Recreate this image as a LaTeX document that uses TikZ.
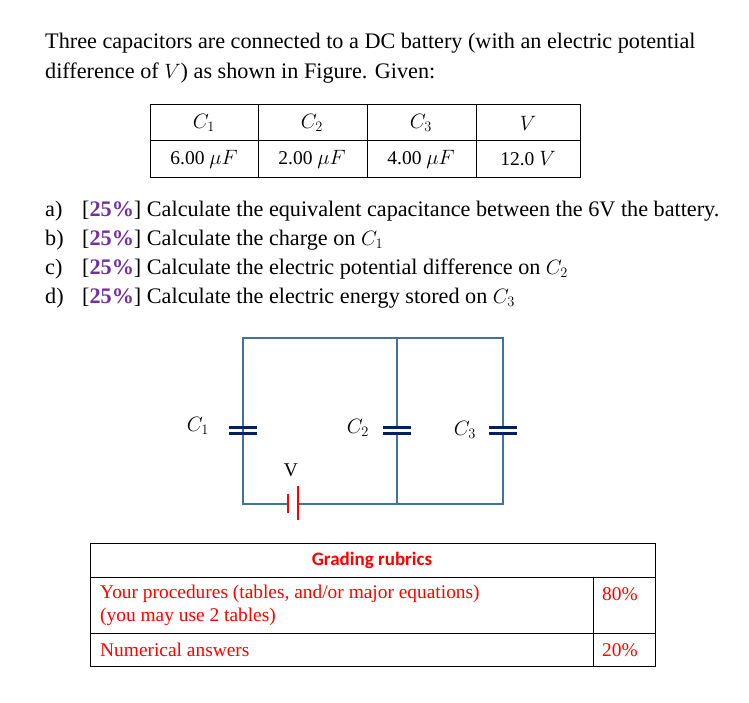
\documentclass[tikz,border=0pt]{standalone}
\usepackage{fontspec}
\setmainfont{Liberation Serif}
\newfontfamily\rubfont{Carlito}
\begin{document}
\begin{tikzpicture}[x=1pt,y=-1pt,
  txt/.style={anchor=west,inner sep=0pt,font=\fontsize{22.2}{26}\selectfont},
  cell/.style={inner sep=0pt,font=\fontsize{19.5}{22}\selectfont},
  wire/.style={draw=wireblue,line width=2.2pt},
  plate/.style={draw=navy,line width=3pt},
  bat/.style={draw=red,line width=2.5pt},
  rub/.style={inner sep=0pt,anchor=west,text=red,font=\fontsize{19.4}{22}\selectfont}]
\definecolor{wireblue}{RGB}{65,113,156}
\definecolor{navy}{RGB}{0,32,96}
\definecolor{purplec}{RGB}{112,48,160}
\useasboundingbox (0,0) rectangle (749,702);
\node[txt] (l1) at (45,43) {Three capacitors are connected to a DC battery (with an electric potential};
\node[txt] (l2) at (45,73) {difference of $V$) as shown in Figure. Given:};
% given table
\draw[line width=0.8pt] (150,104) rectangle (580,177) (150,140) -- (580,140)
  (258,104) -- (258,177) (367,104) -- (367,177) (476,104) -- (476,177);
\node[cell] (h1) at (204,123) {$C_1$};
\node[cell] (h2) at (312,123) {$C_2$};
\node[cell] (h3) at (421,123) {$C_3$};
\node[cell] (h4) at (528,123) {$V$};
\node[cell] (v1) at (204,159) {6.00 $\mu F$};
\node[cell] (v2) at (312,159) {2.00 $\mu F$};
\node[cell] (v3) at (421,159) {4.00 $\mu F$};
\node[cell] (v4) at (528,159) {12.0 $V$};
% items
\node[txt] (ia) at (45,211) {a)};
\node[txt] (ib) at (45,240) {b)};
\node[txt] (ic) at (45,269) {c)};
\node[txt] (id) at (45,298) {d)};
\node[txt] (ta) at (82,211) {[{\color{purplec}\bfseries 25\%}] Calculate the equivalent capacitance between the 6V the battery.};
\node[txt] (tb) at (82,240) {[{\color{purplec}\bfseries 25\%}] Calculate the charge on $C_1$};
\node[txt] (tc) at (82,269) {[{\color{purplec}\bfseries 25\%}] Calculate the electric potential difference on $C_2$};
\node[txt] (td) at (82,298) {[{\color{purplec}\bfseries 25\%}] Calculate the electric energy stored on $C_3$};
% circuit
\coordinate (tl) at (243,338); \coordinate (tm) at (397,338); \coordinate (tr) at (503,338);
\coordinate (bl) at (243,504); \coordinate (bm) at (397,504); \coordinate (br) at (503,504);
\coordinate (b1) at (288,504); \coordinate (b2) at (298,504);
\draw[wire] (b1) -- (bl) -- (243,427) (243,433) -- (tl) -- (tm) -- (tr) -- (503,427)
  (503,433) -- (br) -- (bm) -- (b2)
  (tm) -- (397,427) (397,433) -- (bm);
\foreach \x in {243,397,503}{
  \draw[plate] (\x-14,427) -- (\x+14,427) (\x-14,433) -- (\x+14,433);}
\draw[bat] (288,494) -- (288,513) (298,486) -- (298,520);
\node[cell] (c1) at (198,426) {$C_1$};
\node[cell] (c2) at (358,428) {$C_2$};
\node[cell] (c3) at (465,430) {$C_3$};
\node[cell] (vl) at (291,470) {V};
% rubric
\draw[line width=0.8pt] (90,543) rectangle (655,666) (90,577) -- (655,577) (90,633) -- (655,633)
  (593,577) -- (593,666);
\node[inner sep=0pt,text=red,font=\rubfont\bfseries\fontsize{19}{22}\selectfont] (gr) at (372,560) {Grading rubrics};
\node[rub] (r1) at (100,594) {Your procedures (tables, and/or major equations)};
\node[rub] (r2) at (100,617) {(you may use 2 tables)};
\node[rub] (r3) at (100,650) {Numerical answers};
\node[rub,anchor=center] (p1) at (620,594) {80\%};
\node[rub,anchor=center] (p2) at (620,650) {20\%};
\end{tikzpicture}
\end{document}
